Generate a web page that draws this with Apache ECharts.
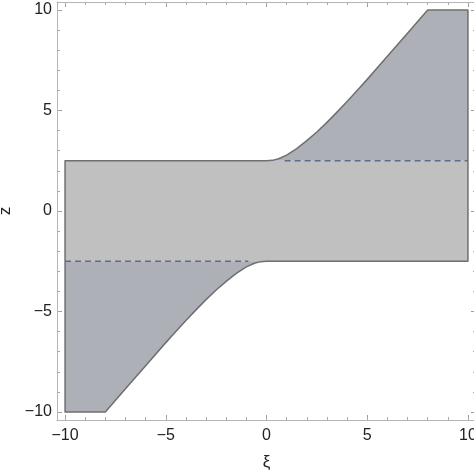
<!DOCTYPE html>
<html><head><meta charset="utf-8">
<script src="https://cdn.jsdelivr.net/npm/echarts@6/dist/echarts.min.js"></script>
<style>html,body{margin:0;padding:0;background:#fff}#c{width:474px;height:474px}</style>
</head><body><div id="c"></div>
<script>
// Upper boundary of the region (xi, z)
const xiUpper = [-10, 0, 0.3, 0.6, 1, 1.5, 2, 2.5, 3, 3.5, 4, 4.5, 5, 6, 7, 8, 10];
const zUpper  = [2.5, 2.5, 2.52, 2.6, 2.78, 3.1, 3.5, 3.93, 4.41, 4.92, 5.45, 6.0, 6.55, 7.7, 8.85, 10, 10];
// Lower boundary of the region (xi, z)
const xiLower = [-10, -8, -7, -6, -5, -4.5, -4, -3.5, -3, -2.5, -2, -1.5, -1, -0.6, -0.3, 0, 10];
const zLower  = [-10, -10, -8.85, -7.7, -6.55, -6.0, -5.45, -4.92, -4.41, -3.93, -3.5, -3.1, -2.78, -2.6, -2.52, -2.5, -2.5];
// Central band
const bandXi = [-10, 10];
const bandZ = [-2.5, 2.5];
// Dashed reference lines
const dashUpperXi = [0.9, 10];
const dashUpperZ = [2.5, 2.5];
const dashLowerXi = [-10, -0.9];
const dashLowerZ = [-2.5, -2.5];
// Ticks
const majorTicks = [-10, -5, 0, 5, 10];
const minorTicks = [-10,-9,-8,-7,-6,-5,-4,-3,-2,-1,0,1,2,3,4,5,6,7,8,9,10];

const pts = (xs, ys) => xs.map((x, i) => [x, ys[i]]);
const upperPts = pts(xiUpper, zUpper);
const lowerPts = pts(xiLower, zLower);

const bandPoly = [[bandXi[0], bandZ[0]], [bandXi[1], bandZ[0]], [bandXi[1], bandZ[1]], [bandXi[0], bandZ[1]]];
const darkUpperPoly = upperPts.filter(p => p[0] >= 0).concat([[10, 2.5]]);
const darkLowerPoly = lowerPts.filter(p => p[0] <= 0).concat([[-10, -2.5]]);
const outlinePoly = upperPts.concat([[10, -2.5]]).concat(lowerPts.slice().reverse()).concat([[-10, 2.5]]);

function polySeries(points, style, z) {
  return {
    type: 'custom', z: z, silent: true,
    data: [0],
    renderItem: function (params, api) {
      return {
        type: 'polygon',
        shape: { points: points.map(p => api.coord(p)) },
        style: style
      };
    }
  };
}

const fmt = v => String(v).replace('-', '\u2212');
const minX = -10.4, maxX = 10.4, minY = -10.4, maxY = 10.4;
const frameColor = '#b5b5b5';
const labelStyle = { color: '#222', fontSize: 16, fontFamily: 'Liberation Sans, Arial, sans-serif', formatter: fmt };

function axisSet(kind) {
  const isX = kind === 'x';
  const posA = isX ? 'bottom' : 'left';
  const posB = isX ? 'top' : 'right';
  const base = { type: 'value', min: isX ? minX : minY, max: isX ? maxX : maxY, splitLine: { show: false } };
  return [
    Object.assign({}, base, {
      position: posA,
      name: isX ? '\u03be' : 'z',
      nameLocation: 'middle',
      nameGap: isX ? 34 : 42,
      nameTextStyle: { color: '#222', fontSize: 17, fontFamily: 'Liberation Sans, Arial, sans-serif' },
      axisLine: { show: true, onZero: false, lineStyle: { color: frameColor, width: 1 } },
      axisTick: { show: true, inside: true, length: 5, customValues: majorTicks, lineStyle: { color: '#999' } },
      axisLabel: Object.assign({ show: true, margin: isX ? 8 : 5, customValues: majorTicks }, labelStyle)
    }),
    Object.assign({}, base, {
      position: posA,
      axisLine: { show: false, onZero: false },
      axisTick: { show: true, inside: true, length: 3, customValues: minorTicks, lineStyle: { color: '#aaa' } },
      axisLabel: { show: false }
    }),
    Object.assign({}, base, {
      position: posB,
      axisLine: { show: true, onZero: false, lineStyle: { color: frameColor, width: 1 } },
      axisTick: { show: true, inside: true, length: 5, customValues: majorTicks, lineStyle: { color: '#999' } },
      axisLabel: { show: false }
    }),
    Object.assign({}, base, {
      position: posB,
      axisLine: { show: false, onZero: false },
      axisTick: { show: true, inside: true, length: 3, customValues: minorTicks, lineStyle: { color: '#aaa' } },
      axisLabel: { show: false }
    })
  ];
}

const chart = echarts.init(document.getElementById('c'), null, { renderer: 'canvas' });
chart.setOption({
  animation: false,
  backgroundColor: '#fff',
  grid: { left: 57, top: 2, width: 419, height: 418, containLabel: false, outerBoundsMode: 'none' },
  xAxis: axisSet('x'),
  yAxis: axisSet('y'),
  series: [
    polySeries(bandPoly, { fill: '#c0c0c0' }, 1),
    polySeries(darkUpperPoly, { fill: '#adb0b7' }, 2),
    polySeries(darkLowerPoly, { fill: '#adb0b7' }, 2),
    {
      type: 'line', z: 3, data: pts(dashUpperXi, dashUpperZ), symbol: 'none', silent: true,
      lineStyle: { color: '#5f6c88', width: 1.5, type: [6, 4] }
    },
    {
      type: 'line', z: 3, data: pts(dashLowerXi, dashLowerZ), symbol: 'none', silent: true,
      lineStyle: { color: '#5f6c88', width: 1.5, type: [6, 4] }
    },
    polySeries(outlinePoly, { fill: 'none', stroke: '#6f6f6f', lineWidth: 1.5, lineJoin: 'round' }, 4)
  ]
});
</script>
</body></html>
